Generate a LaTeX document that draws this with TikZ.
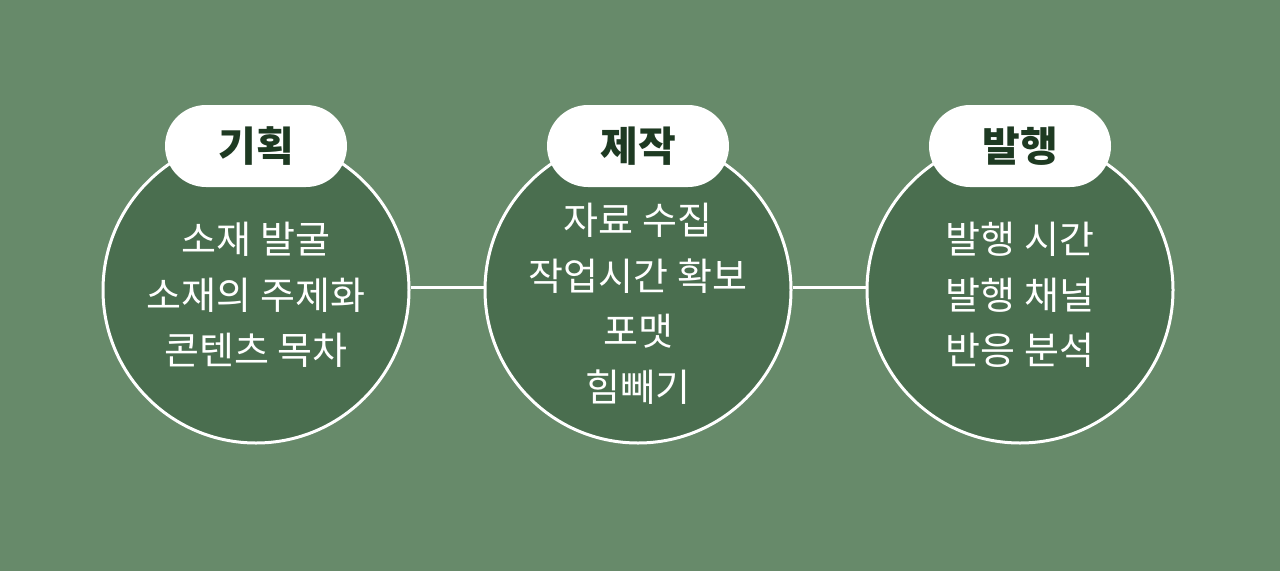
\documentclass[tikz,border=0pt]{standalone}
\usepackage{fontspec}
\newfontfamily\kr{Noto Sans CJK KR}
\definecolor{bg}{HTML}{678A6A}
\definecolor{cf}{HTML}{4A6E4F}
\definecolor{tt}{HTML}{1E3A22}
\begin{document}
\begin{tikzpicture}[x=1pt,y=-1pt,
  circ/.style={circle,draw=white,line width=3pt,fill=cf,minimum size=306pt,inner sep=0pt},
  pill/.style={rounded corners=41pt,fill=white,minimum width=182pt,minimum height=82pt,font=\kr\bfseries\fontsize{41}{46}\selectfont,text=tt},
  body/.style={align=center,text=white,font=\kr\fontsize{38}{55.5}\selectfont},
  link/.style={draw=white,line width=3pt}]
\fill[bg] (0,0) rectangle (1280,571);
\useasboundingbox (0,0) rectangle (1280,571);
\node[circ] (c1) at (256,290) {};
\node[circ] (c2) at (638,290) {};
\node[circ] (c3) at (1020,290) {};
\draw[link] (c1.east |- 0,287) -- (c2.west |- 0,287);
\draw[link] (c2.east |- 0,287) -- (c3.west |- 0,287);
\node[pill] (p1) at (256,146) {기획};
\node[pill] (p2) at (638,146) {제작};
\node[pill] (p3) at (1020,146) {발행};
\node[body] (t1) at (256,295) {소재 발굴\\소재의 주제화\\콘텐츠 목차};
\node[body] (t2) at (638,304) {자료 수집\\작업시간 확보\\포맷\\힘빼기};
\node[body] (t3) at (1020,295) {발행 시간\\발행 채널\\반응 분석};
\end{tikzpicture}
\end{document}
